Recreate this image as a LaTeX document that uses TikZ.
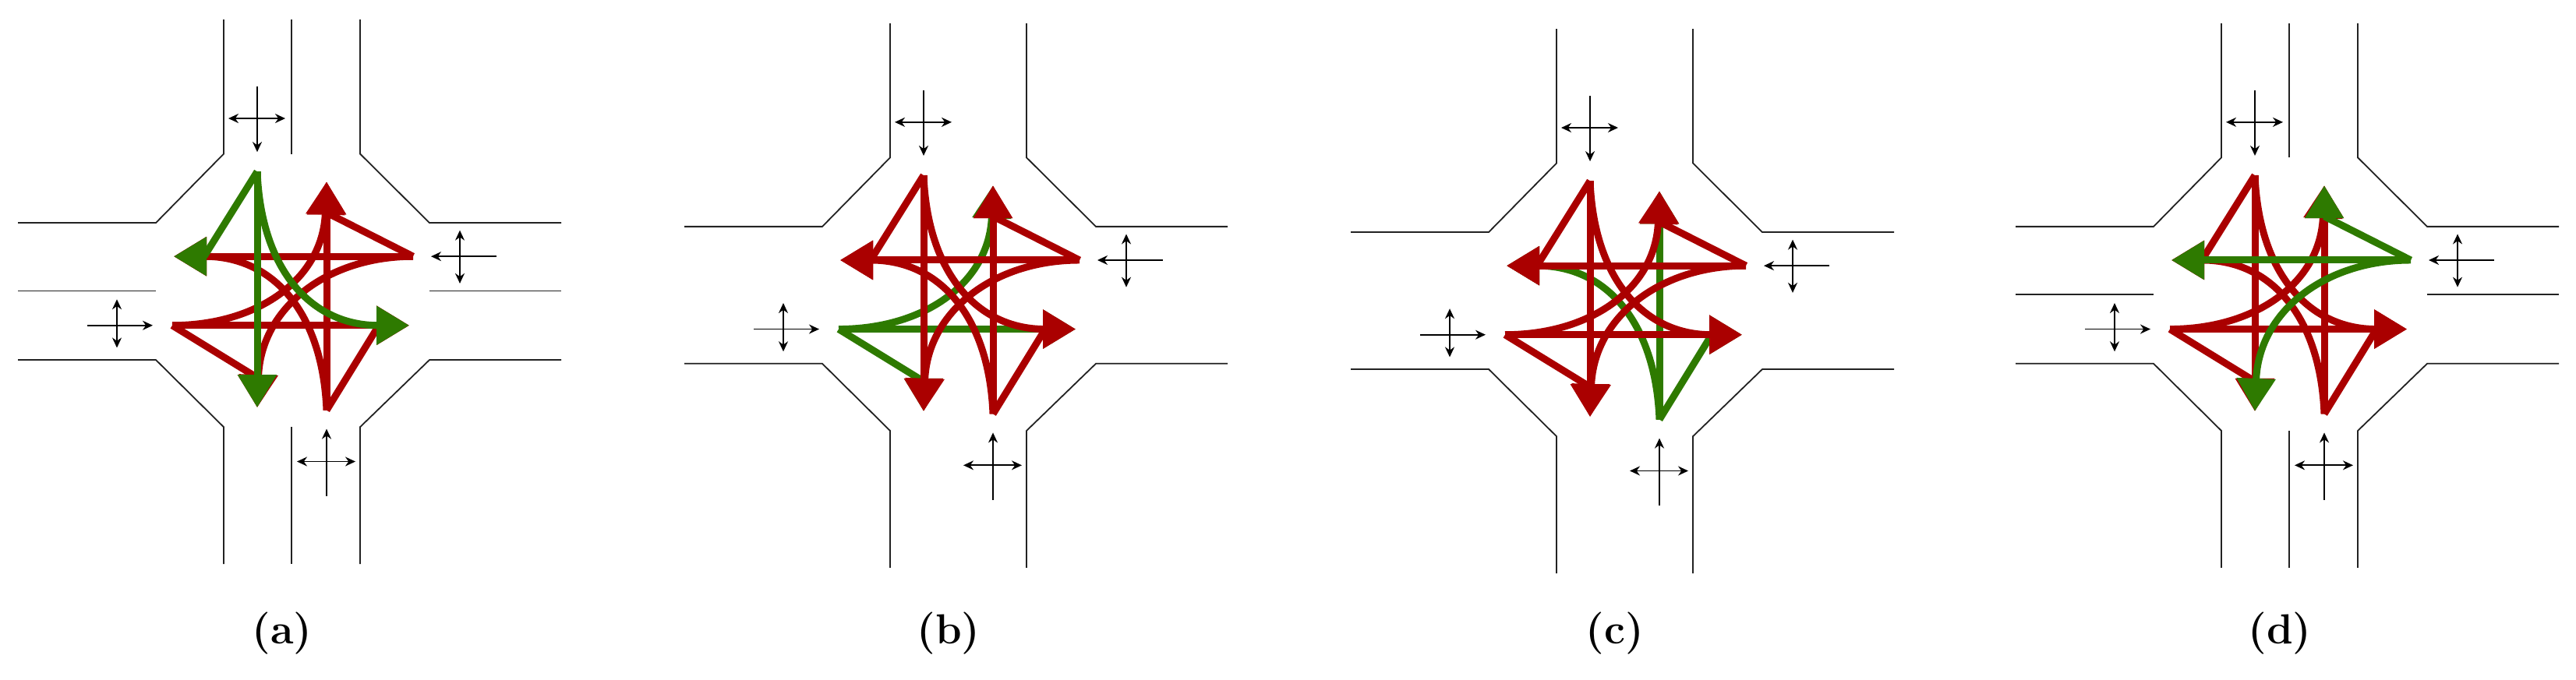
\documentclass[tikz,border=0pt]{standalone}
\usetikzlibrary{arrows.meta}
\definecolor{tred}{HTML}{AA0000}
\definecolor{tgreen}{HTML}{2E7A00}
\definecolor{road}{HTML}{222222}
\tikzset{
  roadline/.style={draw=road,line width=1.8pt},
  flow/.style={line width=9pt,line join=round,-{Triangle[length=42pt,width=48pt]}},
  sig/.style={line width=1.8pt,black},
  sigone/.style={sig,-{Stealth[length=13pt,width=12pt]}},
  sigtwo/.style={sig,{Stealth[length=13pt,width=12pt]}-{Stealth[length=13pt,width=12pt]}},
  lab/.style={font=\fontsize{54}{64}\selectfont\bfseries}
}
\newcommand\apN[1]{%
  \draw[flow,draw=#1] (sN) -- (cNW) -- (tW);
  \draw[flow,draw=#1] (sN) -- (tS);
  \draw[flow,draw=#1] (sN) .. controls (335,290) and (400,349) .. (tE);}
\newcommand\apS[1]{%
  \draw[flow,draw=#1] (sS) -- (cSE) -- (tE);
  \draw[flow,draw=#1] (sS) -- (tN);
  \draw[flow,draw=#1] (sS) .. controls (414,335) and (350,275) .. (tW);}
\newcommand\apW[1]{%
  \draw[flow,draw=#1] (sW) -- (cWS) -- (tS);
  \draw[flow,draw=#1] (sW) -- (tE);
  \draw[flow,draw=#1] (sW) .. controls (330,349) and (414,300) .. (tN);}
\newcommand\apE[1]{%
  \draw[flow,draw=#1] (sE) -- (cEN) -- (tN);
  \draw[flow,draw=#1] (sE) -- (tW);
  \draw[flow,draw=#1] (sE) .. controls (420,275) and (335,330) .. (tS);}
\newcommand\crossing[5]{%
\begin{scope}[shift={(#1,#2)}]
  \draw[roadline] (287,21)--(287,165)--(200,239)--(23,239);
  \draw[roadline] (462,21)--(462,165)--(551,239)--(720,239);
  \draw[roadline] (23,386)--(200,386)--(287,458)--(287,605);
  \draw[roadline] (720,386)--(551,386)--(462,458)--(462,605);
  \ifnum#4=1
  \draw[roadline] (374,21)--(374,165);
  \draw[roadline] (374,458)--(374,605);
  \draw[roadline] (23,312)--(200,312);
  \draw[roadline] (551,312)--(720,312);
  \fi
  \coordinate (sN) at (330,184); \coordinate (sS) at (419,440);
  \coordinate (sW) at (221,349); \coordinate (sE) at (530,275);
  \coordinate (tW) at (223,275); \coordinate (tE) at (525,349);
  \coordinate (tS) at (330,437); \coordinate (tN) at (419,195);
  \coordinate (cNW) at (262,275); \coordinate (cWS) at (330,405);
  \coordinate (cSE) at (486,349); \coordinate (cEN) at (419,228);
  #5
  \coordinate (nA) at (330,93); \coordinate (nB) at (330,163);
  \coordinate (nC) at (293,127); \coordinate (nD) at (366,127);
  \draw[sigone] (nA) -- (nB); \draw[sigtwo] (nC) -- (nD);
  \coordinate (wA) at (112,349); \coordinate (wB) at (196,349);
  \coordinate (wC) at (150,321); \coordinate (wD) at (150,373);
  \draw[sigone] (wA) -- (wB); \draw[sigtwo] (wC) -- (wD);
  \coordinate (eA) at (637,275); \coordinate (eB) at (553,275);
  \coordinate (eC) at (590,247); \coordinate (eD) at (590,304);
  \draw[sigone] (eA) -- (eB); \draw[sigtwo] (eC) -- (eD);
  \coordinate (xA) at (419,532); \coordinate (xB) at (419,460);
  \coordinate (xC) at (381,495); \coordinate (xD) at (456,495);
  \draw[sigone] (xA) -- (xB); \draw[sigtwo] (xC) -- (xD);
  \node[lab] (lab#3) at (362,679-#2) {(#3)};
\end{scope}}
\begin{document}
\begin{tikzpicture}[x=1pt,y=-1.197pt]
\useasboundingbox (0,0) rectangle (3305,729.3);
\crossing{0}{0}{a}{1}{\apW{tred}\apE{tred}\apS{tred}\apN{tgreen}}
\crossing{855}{4}{b}{0}{\apW{tgreen}\apE{tred}\apS{tred}\apN{tred}}
\crossing{1710}{10}{c}{0}{\apS{tgreen}\apW{tred}\apE{tred}\apN{tred}}
\crossing{2563}{4}{d}{1}{\apW{tred}\apS{tred}\apN{tred}\apE{tgreen}}
\end{tikzpicture}
\end{document}
